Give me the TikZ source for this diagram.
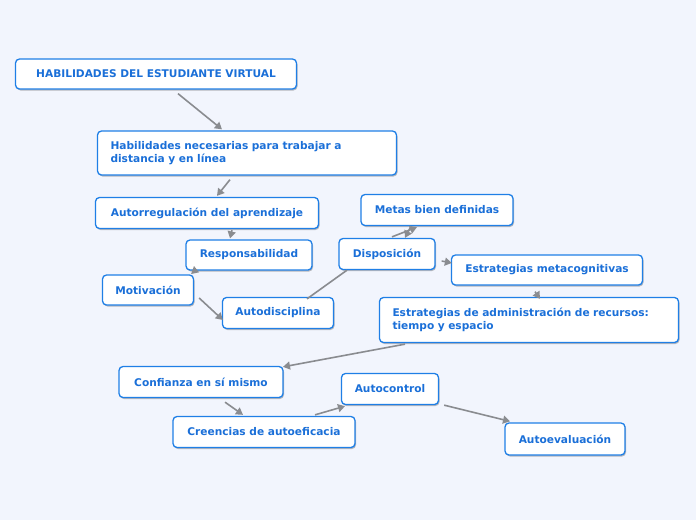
\documentclass[tikz,border=0pt]{standalone}
\usepackage{fontspec}
\setmainfont{DejaVu Sans}
\usetikzlibrary{shadows,arrows.meta}
\definecolor{bg}{HTML}{F2F5FD}
\definecolor{bd}{HTML}{1F7FE6}
\definecolor{tx}{HTML}{1A6FD8}
\definecolor{ar}{HTML}{8A8C90}
\tikzset{
 box/.style={draw=bd,line width=1.3pt,fill=white,rounded corners=4pt,inner ysep=0pt,inner xsep=0pt,
   font=\bfseries\fontsize{10.6}{13.5}\selectfont,text=tx,
   drop shadow={shadow xshift=1pt,shadow yshift=-1.5pt,opacity=.25,fill=black}},
 conn/.style={draw=ar,line width=1.6pt,-{Triangle[length=7pt,width=8pt]}},
 plain/.style={draw=ar,line width=1.6pt}
}
\newcommand{\bx}[6]{\node[box,minimum width=#4,minimum height=#5] (#1) at (#2,#3) {#6};}
\newcommand{\bxx}[6]{\node[box,minimum width=#4,minimum height=#5,text width=#4-26,align=left] (#1) at (#2,#3) {#6};}
\begin{document}
\begin{tikzpicture}[x=1pt,y=-1pt]
\fill[bg] (0,0) rectangle (696,520);
\useasboundingbox (0,0) rectangle (696,520);
\bx{n1}{156}{74}{281}{30}{HABILIDADES DEL ESTUDIANTE VIRTUAL}
\bxx{n2}{247}{153}{299}{44}{Habilidades necesarias para trabajar a\\distancia y en línea}
\bx{n3}{207}{213}{223}{31}{Autorregulación del aprendizaje}
\bx{n4}{249}{255}{126}{30}{Responsabilidad}
\bx{n5}{148}{290}{91}{30}{Motivación}
\bx{n6}{278}{313}{111}{31}{Autodisciplina}
\bx{n7}{437}{210}{152}{31}{Metas bien definidas}
\bx{n8}{387}{254}{96}{31}{Disposición}
\bx{n9}{547}{270}{191}{30}{Estrategias metacognitivas}
\bxx{n10}{529}{320}{299}{45}{Estrategias de administración de recursos:\\tiempo y espacio}
\bx{n11}{201}{382}{164}{31}{Confianza en sí mismo}
\bx{n12}{390}{389}{97}{31}{Autocontrol}
\bx{n13}{264}{432}{182}{31}{Creencias de autoeficacia}
\bx{n14}{565}{439}{120}{32}{Autoevaluación}
\draw[conn] ([xshift=22pt,yshift=-4pt]n1.south) -- ([xshift=-25pt,yshift=1pt]n2.north);
\draw[conn] ([xshift=-17pt,yshift=-4pt]n2.south) -- ([xshift=10pt,yshift=1pt]n3.north);
\draw[conn] ([xshift=25pt,yshift=-1pt]n3.south) -- ([xshift=-19pt,yshift=1pt]n4.north);
\draw[conn] ([xshift=9pt,yshift=0pt]n4.south west) -- ([xshift=5pt,yshift=2pt]n5.north east);
\draw[conn] ([xshift=5pt,yshift=-8pt]n5.east) -- ([xshift=1pt,yshift=-7pt]n6.west);
\draw[plain] ([xshift=29pt,yshift=-2pt]n6.north) -- ([xshift=-40pt,yshift=0pt]n8.south);
\draw[conn] ([xshift=5pt,yshift=1pt]n8.north) -- ([xshift=-20pt,yshift=-1pt]n7.south);
\draw[conn] ([xshift=-26pt,yshift=0pt]n7.south) -- ([xshift=18pt,yshift=0pt]n8.north);
\draw[conn] ([xshift=6pt,yshift=-7pt]n8.east) -- ([xshift=1pt,yshift=7pt]n9.west);
\draw[conn] ([xshift=-12pt,yshift=-6pt]n9.south) -- ([xshift=11pt,yshift=-2pt]n10.north);
\draw[conn] ([xshift=-124pt,yshift=-1pt]n10.south) -- ([xshift=82pt,yshift=-1pt]n11.north);
\draw[conn] ([xshift=24pt,yshift=-4pt]n11.south) -- ([xshift=-21pt,yshift=1pt]n13.north);
\draw[conn] ([xshift=51pt,yshift=1pt]n13.north) -- ([xshift=-45pt,yshift=-1pt]n12.south);
\draw[conn] ([xshift=5pt,yshift=0pt]n12.south east) -- ([xshift=-55pt,yshift=1pt]n14.north);
\end{tikzpicture}
\end{document}
